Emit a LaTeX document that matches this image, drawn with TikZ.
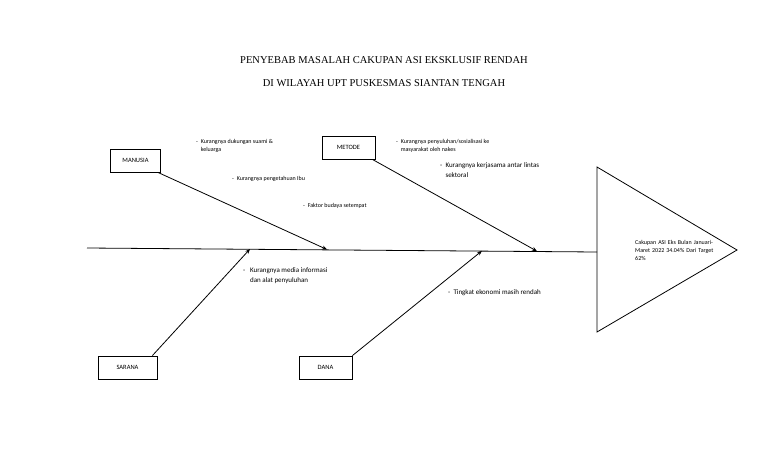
\documentclass[tikz,border=0pt]{standalone}
\usepackage{fontspec}
\setmainfont{Carlito}
\newfontfamily\titlefont{Liberation Serif}
\usetikzlibrary{arrows.meta}
\begin{document}
\begin{tikzpicture}[x=1pt,y=-1pt,
  cat/.style={draw,thick,minimum width=50pt,minimum height=23pt,inner sep=0pt,font=\fontsize{6.5}{8}\selectfont},
  note/.style={anchor=north west,align=left,inner sep=0pt,font=\fontsize{6}{8}\selectfont},
  note2/.style={anchor=north west,align=left,inner sep=0pt,font=\fontsize{7}{10}\selectfont},
  bone/.style={thick,-{Stealth[length=5pt,width=4pt]}}]
\useasboundingbox[fill=white] (0,0) rectangle (768,466);
\node[font=\titlefont\fontsize{10.5}{12}\selectfont] (t1) at (384,60) {PENYEBAB MASALAH CAKUPAN ASI EKSKLUSIF RENDAH};
\node[font=\titlefont\fontsize{10.5}{12}\selectfont] (t2) at (384,83) {DI WILAYAH UPT PUSKESMAS SIANTAN TENGAH};
\coordinate (s0) at (87,248);
\coordinate (s1) at (597,252);
\draw[thick] (s0) -- (s1);
\coordinate (m) at (327,249.5);
\coordinate (me) at (537,251.2);
\coordinate (sa) at (250,249);
\coordinate (da) at (482,250.8);
\node[cat,minimum width=50pt] (manusia) at (135.5,160.5) {MANUSIA};
\node[cat,minimum width=53pt] (metode) at (348.5,147.5) {METODE};
\node[cat,minimum width=59pt] (sarana) at (127.5,367.5) {SARANA};
\node[cat,minimum width=53pt] (dana) at (325.5,367.5) {DANA};
\draw[bone] (manusia.south east)++(-3,0) -- (m);
\draw[bone] (metode.south east)++(-3,0) -- (me);
\draw[bone] (sarana.north east)++(-5,0) -- (sa);
\draw[bone] (dana.north east) -- (da);
\draw[thick] (597,167) coordinate (tA) -- (737,250) coordinate (tB) -- (597,332) coordinate (tC) -- cycle;
\node[note,text width=105pt] (eff) at (635,240) {Cakupan ASI Eks Bulan Januari-\\Maret 2022 34.04\% Dari Target\\62\%};
\node[note] (n1) at (196,139) {-\ \ Kurangnya dukungan suami \&\\\phantom{-\ \ }keluarga};
\node[note] (n2) at (232,176) {-\ \ Kurangnya pengetahuan Ibu};
\node[note] (n3) at (303,203) {-\ \ Faktor budaya setempat};
\node[note] (n4) at (396,139) {-\ \ Kurangnya penyuluhan/sosialisasi ke\\\phantom{-\ \ }masyarakat oleh nakes};
\node[note2] (n5) at (440,162) {-\ \ Kurangnya kerjasama antar lintas\\\phantom{-\ \ }sektoral};
\node[note2] (n6) at (243,267) {-\ \ \ Kurangnya media informasi\\\phantom{-\ \ \ }dan alat penyuluhan};
\node[note2] (n7) at (448,289) {-\ \ Tingkat ekonomi masih rendah};
\end{tikzpicture}
\end{document}
